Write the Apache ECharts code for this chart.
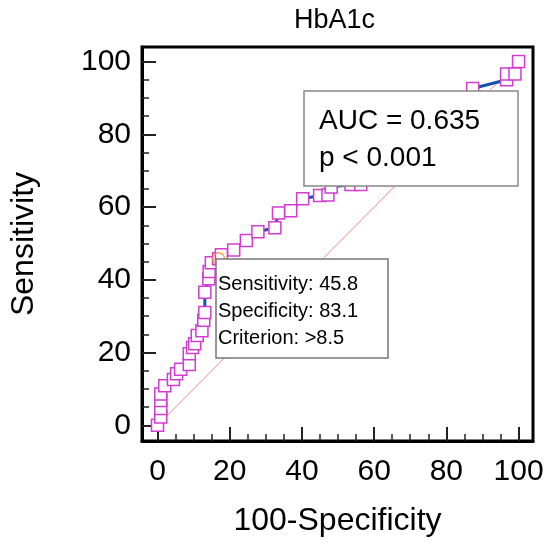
<!DOCTYPE html>
<html>
<head>
<meta charset="utf-8">
<script src="https://cdn.jsdelivr.net/npm/echarts@6/dist/echarts.min.js"></script>
<style>
  html, body { margin: 0; padding: 0; background: #fff; }
  #main { width: 550px; height: 552px; }
</style>
</head>
<body>
<div id="main"></div>
<script>
// ROC curve points: 100-Specificity (x) and Sensitivity (y)
const rocX = [0, 0.9, 0.9, 0.9, 0.9, 2.0, 4.4, 5.3, 6.4, 8.8, 8.8, 9.7, 10.3, 11.0, 12.3, 12.8,
  13.1, 13.1, 14.2, 14.3, 14.9, 16.9, 17.7, 21.1, 24.6, 27.8, 32.5, 33.5, 36.9, 40.2, 44.9,
  47.2, 48.1, 53.6, 56.3, 60, 64, 68, 72, 76, 80, 84, 87.3, 96.7, 96.7, 99.0, 100];
const rocY = [0, 2.3, 4.6, 6.8, 8.6, 10.9, 12.6, 14.2, 15.4, 16.7, 19.7, 21.4, 22.4, 24.7, 26.0, 28.9,
  31.0, 36.6, 40.3, 42.3, 44.7, 45.8, 46.9, 48.2, 50.8, 53.2, 54.3, 58.4, 59.0, 62.3, 63.2,
  63.3, 65.5, 66.2, 66.2, 69, 72, 75, 78, 82, 86, 89, 92.6, 95.0, 96.6, 96.6, 100];
const criterion = [16.9, 45.8];
const diagonal = [[0, 0], [100, 100]];
const majorTicks = [0, 20, 40, 60, 80, 100];
const minorTicks = [5, 10, 15, 25, 30, 35, 45, 50, 55, 65, 70, 75, 85, 90, 95];
const aucLines = ['AUC = 0.635', 'p < 0.001'];
const critLines = ['Sensitivity: 45.8', 'Specificity: 83.1', 'Criterion: >8.5'];

const font = '"Liberation Sans", Arial, sans-serif';
const axisMin = -4.3, axisMax = 104;

function majorAxis(name, nameGap, labelMargin) {
  return {
    type: 'value', min: axisMin, max: axisMax,
    name: name, nameLocation: 'middle', nameGap: nameGap,
    nameTextStyle: { fontSize: 32, color: '#000', fontFamily: font },
    axisLine: { onZero: false, lineStyle: { color: '#000', width: 3 } },
    axisTick: { inside: true, length: 14, customValues: majorTicks,
      lineStyle: { color: '#222', width: 2 } },
    axisLabel: { customValues: majorTicks, fontSize: 30, color: '#000',
      fontFamily: font, margin: labelMargin },
    splitLine: { show: false }
  };
}

function minorAxis() {
  return {
    type: 'value', min: axisMin, max: axisMax,
    axisLine: { show: false, onZero: false },
    axisTick: { inside: true, length: 7, customValues: minorTicks,
      lineStyle: { color: '#222', width: 1.5 } },
    axisLabel: { show: false },
    splitLine: { show: false }
  };
}

const xMain = majorAxis('100-Specificity', 64, 16);
xMain.position = 'bottom';
const xMinor = minorAxis();
xMinor.position = 'bottom';
const yMain = majorAxis('Sensitivity', 102, 11);
yMain.position = 'left';
const yMinor = minorAxis();
yMinor.position = 'left';

// text box drawn over the plot
function textBox(x, y, w, h, stroke, lines, size, textX, lineYs) {
  const els = [{ type: 'rect', z: 100, shape: { x: x, y: y, width: w, height: h },
    style: { fill: '#fff', stroke: stroke, lineWidth: 1.5 } }];
  lines.forEach((t, i) => els.push({ type: 'text', z: 101, x: textX, y: lineYs[i],
    style: { text: t, font: size + 'px ' + font, fill: '#000', verticalAlign: 'middle' } }));
  return els;
}

const chart = echarts.init(document.getElementById('main'));
chart.setOption({
  animation: false,
  backgroundColor: '#fff',
  title: {
    text: 'HbA1c', left: 289, top: 2,
    textStyle: { fontSize: 27, fontWeight: 'normal', color: '#000', fontFamily: font }
  },
  grid: {
    left: 139, right: 17, top: 47, bottom: 111,
    show: true, borderColor: '#000', borderWidth: 3, backgroundColor: 'transparent'
  },
  xAxis: [xMain, xMinor],
  yAxis: [yMain, yMinor],
  series: [
    {
      type: 'line', data: diagonal, symbol: 'none', silent: true,
      lineStyle: { color: '#ef8a8a', width: 1 }, z: 1
    },
    {
      type: 'line', data: rocX.map((x, i) => [x, rocY[i]]),
      symbol: 'rect', symbolSize: 12, showAllSymbol: true,
      lineStyle: { color: '#1554ad', width: 3 },
      itemStyle: { color: '#fff', borderColor: '#d23cd2', borderWidth: 1.5 },
      z: 2
    },
    {
      type: 'scatter', data: [criterion], symbol: 'circle', symbolSize: 12,
      itemStyle: { color: 'rgba(255,255,255,0)', borderColor: '#f29022', borderWidth: 1.5 },
      z: 3
    }
  ],
  graphic: [].concat(
    textBox(304, 91, 214, 95, '#888', aucLines, 28, 319, [121, 158]),
    textBox(216, 259, 172, 99, '#777', critLines, 20, 218, [284, 311, 338])
  )
});
</script>
</body>
</html>
